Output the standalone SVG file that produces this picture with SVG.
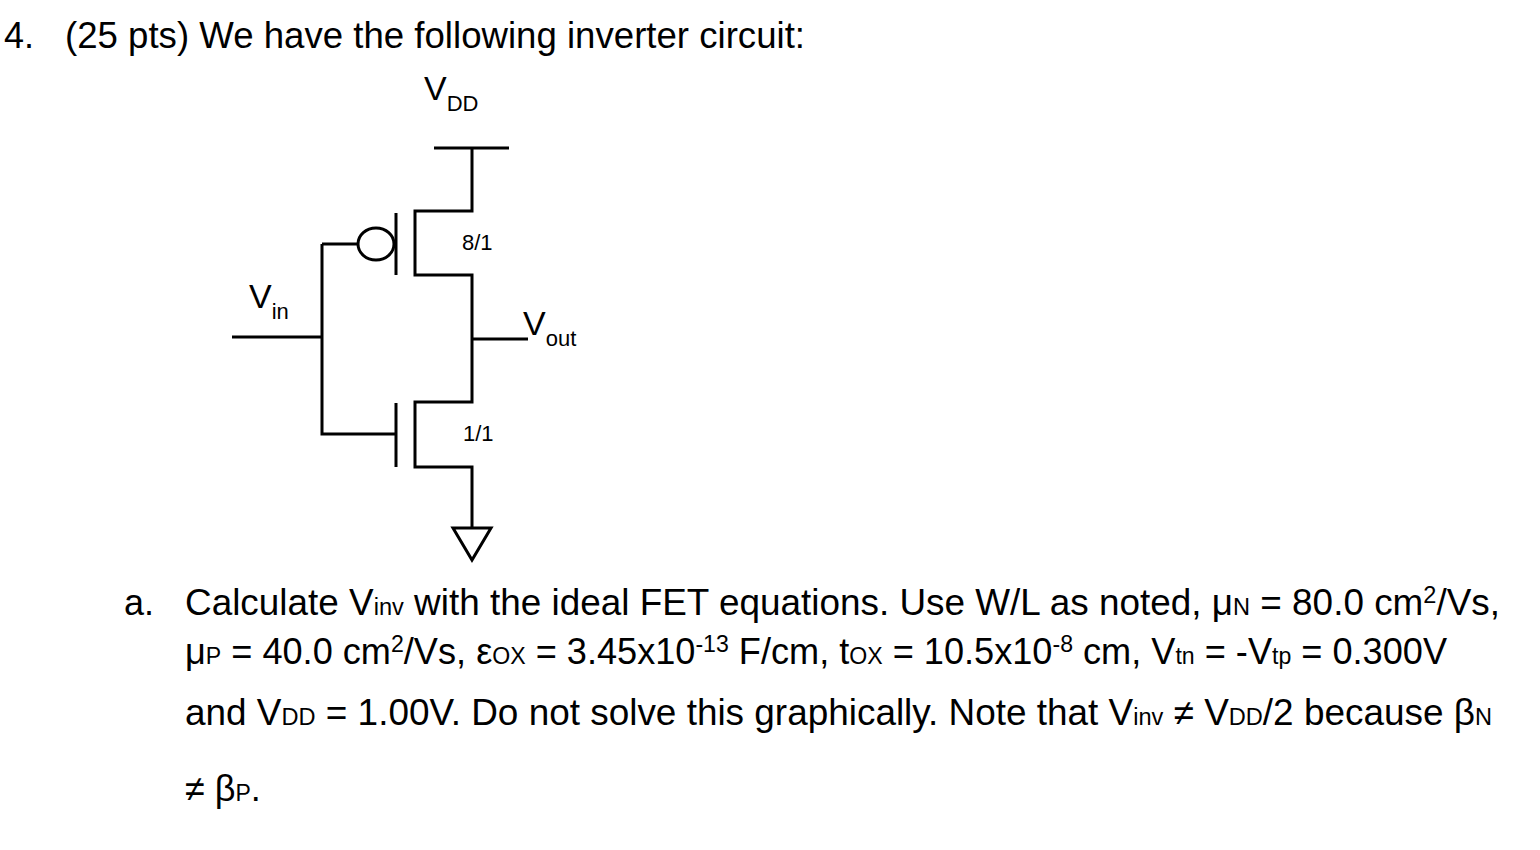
<svg xmlns="http://www.w3.org/2000/svg" width="1540" height="850" viewBox="0 0 1540 850">
<style>
.w{fill:none;stroke:#000;stroke-width:3}
text{font-family:"Liberation Sans",Arial,sans-serif;fill:#000}
.t{font-size:36px}
.l{font-size:34px}
.s{font-size:22px}
.sub{font-size:22px}
</style>
<rect width="1540" height="850" fill="#fff"/>
<text class="t" x="4" y="48">4.</text>
<text class="t" x="65" y="48" textLength="740" lengthAdjust="spacingAndGlyphs">(25 pts) We have the following inverter circuit:</text>
<g id="connectors">
<path class="w" d="M434 148H509M472 148V211H415V275H472V402H415V467H472V528"/>
<path class="w" d="M396 213V275M396 403V467"/>
<path class="w" d="M322 244H358M322 244V434H396M232 337H322M472 339H528"/>
</g>
<g id="pmos"><ellipse class="w" cx="376" cy="244" rx="18" ry="16"/><text class="s" x="462" y="250">8/1</text></g>
<g id="nmos"><text class="s" x="463" y="441">1/1</text></g>
<g id="ground"><path class="w" d="M453 528H491L472 560Z"/></g>
<g id="vdd"><text class="l" x="424" y="100">V<tspan class="sub" dy="11">DD</tspan></text></g>
<g id="vin"><text class="l" x="249" y="308">V<tspan class="sub" dy="11">in</tspan></text></g>
<g id="vout"><text class="l" x="523" y="335">V<tspan class="sub" dy="11">out</tspan></text></g>
<g id="text" class="t">
<text x="124" y="615">a.</text>
<text x="185" y="615" textLength="1315" lengthAdjust="spacingAndGlyphs">Calculate V<tspan font-size="23">inv</tspan> with the ideal FET equations. Use W/L as noted,  μ<tspan font-size="23">N</tspan> = 80.0 cm<tspan font-size="23" dy="-12">2</tspan><tspan dy="12">/Vs,</tspan></text>
<text x="185" y="664" textLength="1262" lengthAdjust="spacingAndGlyphs">μ<tspan font-size="23">P</tspan> = 40.0 cm<tspan font-size="23" dy="-12">2</tspan><tspan dy="12">/Vs, ε</tspan><tspan font-size="23">OX</tspan> = 3.45x10<tspan font-size="23" dy="-12">-13</tspan><tspan dy="12"> F/cm, t</tspan><tspan font-size="23">OX</tspan> = 10.5x10<tspan font-size="23" dy="-12">-8</tspan><tspan dy="12"> cm, V</tspan><tspan font-size="23">tn</tspan> = -V<tspan font-size="23">tp</tspan> = 0.300V</text>
<text x="185" y="725" textLength="1307" lengthAdjust="spacingAndGlyphs">and V<tspan font-size="23">DD</tspan> = 1.00V. Do not solve this graphically. Note that V<tspan font-size="23">inv</tspan> ≠ V<tspan font-size="23">DD</tspan>/2 because β<tspan font-size="23">N</tspan></text>
<text x="185" y="801">≠ β<tspan font-size="23">P</tspan>.</text>
</g>
</svg>
